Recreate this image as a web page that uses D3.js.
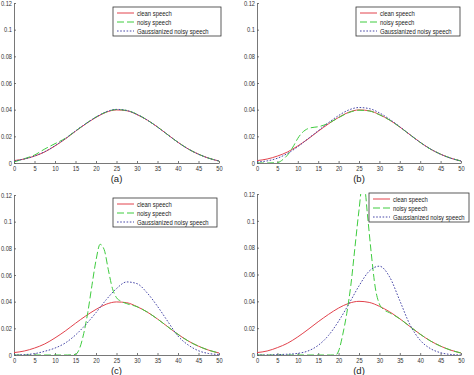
<!DOCTYPE html>
<html>
<head>
<meta charset="utf-8">
<script src="https://cdn.jsdelivr.net/npm/d3@7"></script>
<style>
body { margin:0; background:#fff; }
svg { display:block; font-family:"Liberation Sans", Arial, sans-serif; }
</style>
</head>
<body>
<svg id="chart" width="474" height="375"></svg>
<script>
/* DATA
------------------------------------------------------
*/
const seriesNames = ["clean speech", "noisy speech", "Gaussianized noisy speech"];
const panelLabels = ["(a)", "(b)", "(c)", "(d)"];
const xTicks = [0,5,10,15,20,25,30,35,40,45,50];
const yTicks = [0,0.02,0.04,0.06,0.08,0.1,0.12];

const xGrid = [0,2.5,5,7.5,10,12.5,15,17.5,20,22.5,25,27.5,30,32.5,35,37.5,40,42.5,45,47.5,50];
const cleanA = [0.0018,0.003,0.0052,0.0083,0.0128,0.018,0.0238,0.0293,0.0342,0.0381,0.0398,0.0392,0.0363,0.0322,0.027,0.0212,0.0155,0.0105,0.0066,0.0036,0.0015];
const noisyA = [0.0008,0.0032,0.006,0.0105,0.0145,0.0185,0.024,0.0295,0.0345,0.0383,0.0401,0.0394,0.0366,0.0322,0.027,0.0212,0.0155,0.0105,0.0066,0.0036,0.0015];
const gaussA = [0.0015,0.003,0.0052,0.0085,0.013,0.0182,0.024,0.0295,0.0344,0.0384,0.0402,0.0394,0.0364,0.0322,0.027,0.0212,0.0155,0.0105,0.0066,0.0036,0.0015];

const cleanB = [0.0018,0.003,0.0052,0.0083,0.0128,0.018,0.0238,0.0293,0.0342,0.0381,0.0398,0.0392,0.0363,0.0322,0.027,0.0212,0.0155,0.0105,0.0066,0.0036,0.0015];
const xNoisyB = [0,2.5,5,6.5,8,9,10,11,12.5,14,15,17.5,20,22.5,25,27.5,30,32.5,35,37.5,40,42.5,45,47.5,50];
const noisyB = [0,0,0.0003,0.003,0.008,0.013,0.0185,0.0225,0.0258,0.0268,0.0272,0.0298,0.034,0.0378,0.0396,0.039,0.0362,0.0322,0.027,0.0212,0.0155,0.0105,0.0066,0.0036,0.0015];
const gaussB = [0.0008,0.0016,0.0036,0.0072,0.0122,0.0182,0.0242,0.0302,0.0356,0.0398,0.0416,0.0408,0.0376,0.0328,0.0272,0.0212,0.0155,0.0105,0.0066,0.0036,0.0015];

const cleanC = [0.0018,0.003,0.0052,0.0083,0.0128,0.018,0.0238,0.0293,0.0342,0.0381,0.0398,0.0392,0.0363,0.0322,0.027,0.0212,0.0155,0.0105,0.0066,0.0036,0.0015];
const xNoisyC = [0,5,10,13,15,16,17,18,19,20,21,22,23,24,25,26,27.5,30,32.5,35,37.5,40,42.5,45,47.5,50];
const noisyC = [0,0,0,0,0.0005,0.005,0.016,0.032,0.052,0.071,0.083,0.079,0.064,0.05,0.043,0.0405,0.0385,0.0362,0.0322,0.027,0.0212,0.0155,0.0105,0.0066,0.0036,0.0015];
const gaussC = [0,0.0003,0.001,0.0028,0.0052,0.009,0.015,0.0228,0.0318,0.0415,0.0498,0.0548,0.0535,0.0465,0.0365,0.0252,0.0142,0.0075,0.0032,0.0011,0.0004];

const cleanD = [0.0018,0.003,0.0055,0.0088,0.0135,0.019,0.0248,0.0302,0.035,0.0385,0.04,0.0392,0.0363,0.0322,0.027,0.0212,0.0155,0.0105,0.0066,0.0036,0.0015];
const xNoisyD = [0,5,10,15,18,19.3,20,21,22,23,24,25,25.8,26.5,27,28,29,30,31,32.5,35,37.5,40,42.5,45,47.5,50];
const noisyD = [0,0,0,0,0,0,0.003,0.015,0.031,0.052,0.08,0.108,0.126,0.122,0.107,0.076,0.05,0.038,0.034,0.0315,0.027,0.0212,0.0155,0.0105,0.0066,0.0036,0.0015];
const gaussD = [0,0,0.0003,0.0006,0.0012,0.003,0.0072,0.0145,0.0252,0.038,0.0515,0.0625,0.0662,0.0582,0.0405,0.0225,0.011,0.0048,0.0017,0.0004,0];

/* LAYOUT
------------------------------------------------------
*/
const colors = ["#e2424c", "#3fcc3f", "#4848a8"];
const dashes = [null, "7,3", "1.6,1.6"];

const panels = [
	{x0:14, x1:219, y0:3, y1:163, lx:113, ly:7, lw:108, data:[[xGrid,cleanA],[xGrid,noisyA],[xGrid,gaussA]]},
	{x0:257, x1:461, y0:3, y1:163, lx:356, ly:7, lw:104, data:[[xGrid,cleanB],[xNoisyB,noisyB],[xGrid,gaussB]]},
	{x0:14, x1:219, y0:195, y1:355, lx:113, ly:198, lw:104, data:[[xGrid,cleanC],[xNoisyC,noisyC],[xGrid,gaussC]]},
	{x0:257, x1:461, y0:194, y1:355, lx:369, ly:193, lw:100, data:[[xGrid,cleanD],[xNoisyD,noisyD],[xGrid,gaussD]]}
];

const svg = d3.select("#chart");

//the original font is narrower than Liberation Sans
function squeeze(sel, f){
	sel.each(function(){
		const w = this.getComputedTextLength();
		d3.select(this).attr("textLength", w*f).attr("lengthAdjust","spacingAndGlyphs");
	});
}

panels.forEach(function(p, i){
	const x = d3.scaleLinear().domain([0,50]).range([p.x0, p.x1]);
	const y = d3.scaleLinear().domain([0,0.12]).range([p.y1, p.y0]);
	const g = svg.append("g");

	g.append("clipPath").attr("id","clip"+i)
		.append("rect")
		.attr("x",p.x0).attr("y",p.y0)
		.attr("width",p.x1-p.x0).attr("height",p.y1-p.y0);

	//axes, ticks inward like matlab
	const xAxis = g.append("g")
		.attr("transform","translate(0,"+p.y1+")")
		.call(d3.axisBottom(x).tickValues(xTicks).tickSizeInner(-2).tickSizeOuter(0).tickPadding(3));
	const yAxis = g.append("g")
		.attr("transform","translate("+p.x0+",0)")
		.call(d3.axisLeft(y).tickValues(yTicks).tickSizeInner(-2).tickSizeOuter(0).tickPadding(2)
			.tickFormat(d => d === 0 ? "0" : String(+d.toFixed(2))));
	[xAxis, yAxis].forEach(function(a){
		a.select(".domain").attr("stroke","#555").attr("stroke-width",0.8);
		a.selectAll(".tick line").attr("stroke","#555").attr("stroke-width",0.8);
		a.selectAll(".tick text").attr("font-size","6.8px").attr("fill","#333");
		squeeze(a.selectAll(".tick text"), 0.84);
	});

	//curves
	const line = d3.line().curve(d3.curveMonotoneX);
	p.data.forEach(function(s, k){
		const pts = s[0].map((xv, j) => [x(xv), y(s[1][j])]);
		g.append("path")
			.attr("clip-path","url(#clip"+i+")")
			.attr("d", line(pts))
			.attr("fill","none")
			.attr("stroke", colors[k])
			.attr("stroke-width", 1)
			.attr("stroke-dasharray", dashes[k]);
	});

	//panel label
	g.append("text")
		.attr("x",(p.x0+p.x1)/2)
		.attr("y",p.y1+19)
		.attr("text-anchor","middle")
		.attr("font-size","9.5px")
		.attr("fill","#222")
		.text(panelLabels[i]);

	//legend
	const lg = g.append("g").attr("transform","translate("+p.lx+","+p.ly+")");
	lg.append("rect")
		.attr("width",p.lw).attr("height",29)
		.attr("fill","#fff").attr("stroke","#333").attr("stroke-width",0.8);
	seriesNames.forEach(function(name, k){
		const yy = 6 + k*9;
		lg.append("line")
			.attr("x1",4).attr("x2",21).attr("y1",yy).attr("y2",yy)
			.attr("stroke",colors[k]).attr("stroke-width",1)
			.attr("stroke-dasharray",dashes[k]);
		const t = lg.append("text")
			.attr("x",24).attr("y",yy+2.5)
			.attr("font-size","6.7px").attr("fill","#222")
			.text(name);
		squeeze(t, 0.88);
	});
});
</script>
</body>
</html>
